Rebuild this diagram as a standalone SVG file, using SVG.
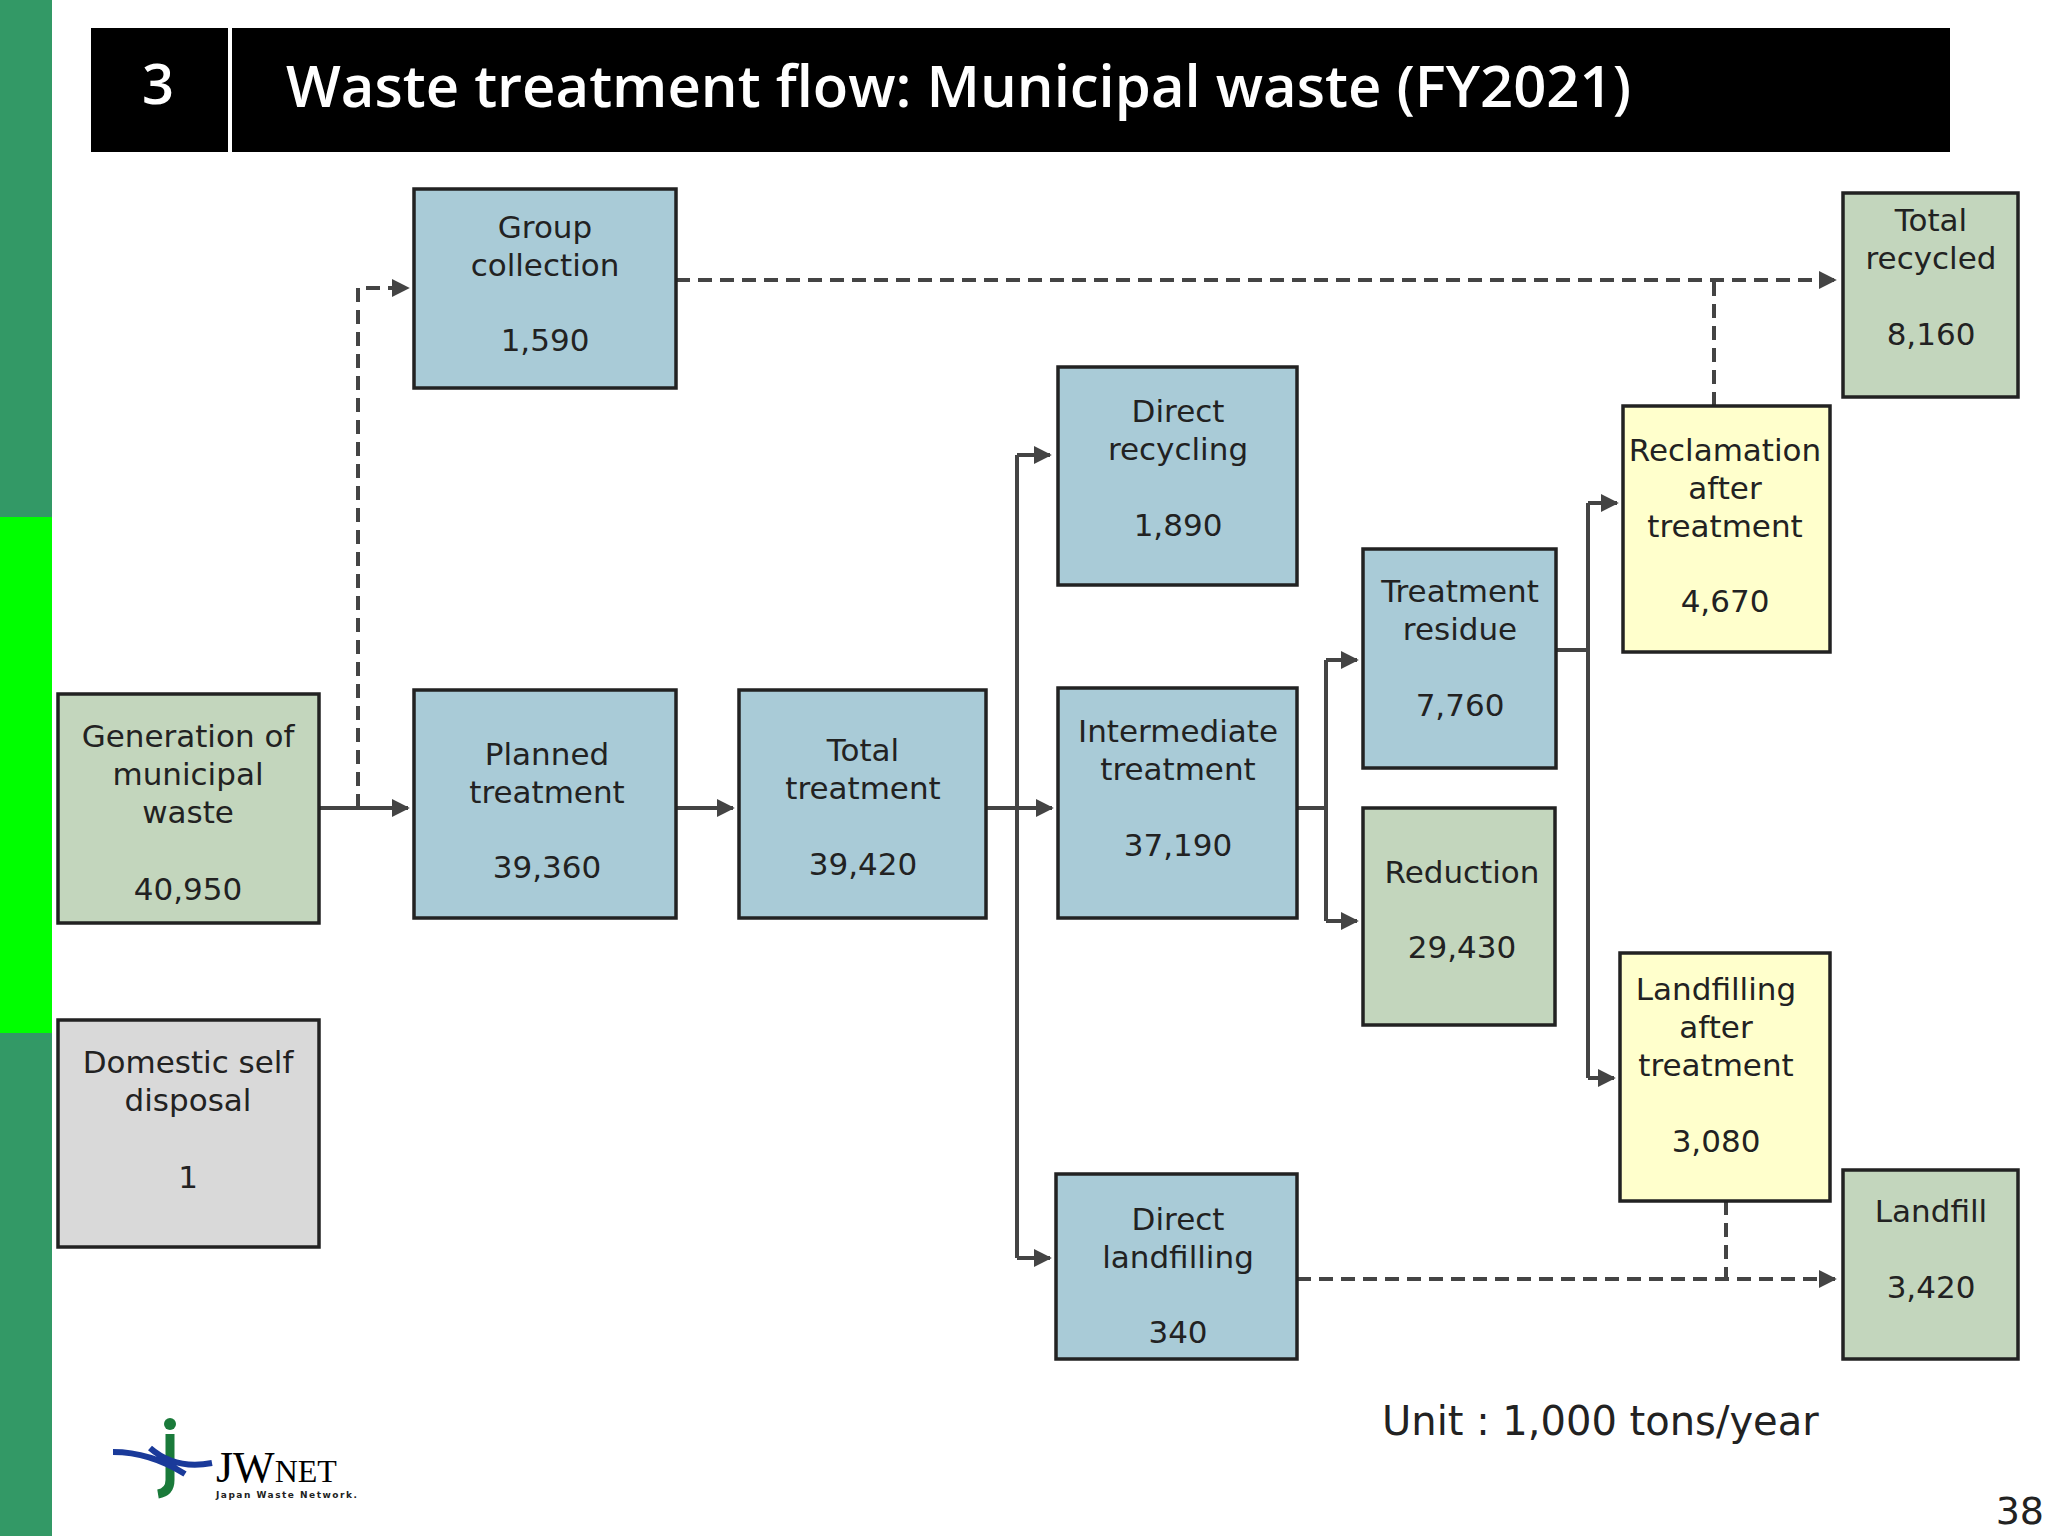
<svg xmlns="http://www.w3.org/2000/svg" width="2048" height="1536" viewBox="0 0 2048 1536">
<style>
.n rect{stroke:#222;stroke-width:3.5}
.b{fill:#a9cbd7}.g{fill:#c3d6bd}.y{fill:#ffffcc}.gr{fill:#d9d9d9}
text{font-family:"DejaVu Sans","Open Sans",sans-serif;font-size:31px;fill:#222;text-anchor:middle}
.s{fill:none;stroke:#444;stroke-width:4}
.d{fill:none;stroke:#444;stroke-width:4;stroke-dasharray:14,8}
</style>
<defs><marker id="a" viewBox="0 0 10 10" refX="9" refY="5" markerWidth="4.5" markerHeight="5" orient="auto"><path d="M0,0L10,5L0,10z" fill="#444"/></marker></defs>
<rect width="2048" height="1536" fill="#fff"/>
<rect x="0" y="0" width="52" height="1536" fill="#339966"/>
<rect x="0" y="517" width="52" height="516" fill="#00ff00"/>
<g id="title">
<rect x="91" y="28" width="1859" height="124" fill="#000"/>
<rect x="228" y="28" width="4" height="124" fill="#fff"/>
<text x="158" y="104" style="fill:#fff;font-size:56px;font-weight:600;font-family:'Open Sans',sans-serif">3</text>
<text x="286" y="107" style="fill:#fff;font-size:58px;font-weight:600;font-family:'Open Sans',sans-serif;text-anchor:start">Waste treatment flow: Municipal waste (FY2021)</text>
</g>
<g id="connectors">
<path class="s" d="M319,808H408" marker-end="url(#a)"/>
<path class="d" d="M358,808V288H408" marker-end="url(#a)"/>
<path class="s" d="M676,808H733" marker-end="url(#a)"/>
<path class="s" d="M986,808H1052" marker-end="url(#a)"/>
<path class="s" d="M1017,455V1258"/>
<path class="s" d="M1017,455H1050" marker-end="url(#a)"/>
<path class="s" d="M1017,1258H1050" marker-end="url(#a)"/>
<path class="s" d="M1297,808H1326"/>
<path class="s" d="M1326,660V921"/>
<path class="s" d="M1326,660H1357" marker-end="url(#a)"/>
<path class="s" d="M1326,921H1357" marker-end="url(#a)"/>
<path class="s" d="M1556,650H1588"/>
<path class="s" d="M1588,503V1078"/>
<path class="s" d="M1588,503H1617" marker-end="url(#a)"/>
<path class="s" d="M1588,1078H1614" marker-end="url(#a)"/>
<path class="d" d="M676,280H1835" marker-end="url(#a)"/>
<path class="d" d="M1714,406V280"/>
<path class="d" d="M1297,1279H1835" marker-end="url(#a)"/>
<path class="d" d="M1726,1201V1279"/>
</g>
<g id="group" class="n"><rect class="b" x="414" y="189" width="262" height="199"/><text x="545" y="238">Group</text><text x="545" y="276">collection</text><text x="545" y="351">1,590</text></g>
<g id="gen" class="n"><rect class="g" x="58" y="694" width="261" height="229"/><text x="188" y="747">Generation of</text><text x="188" y="785">municipal</text><text x="188" y="823">waste</text><text x="188" y="900">40,950</text></g>
<g id="domestic" class="n"><rect class="gr" x="58" y="1020" width="261" height="227"/><text x="188" y="1073">Domestic self</text><text x="188" y="1111">disposal</text><text x="188" y="1188">1</text></g>
<g id="planned" class="n"><rect class="b" x="414" y="690" width="262" height="228"/><text x="547" y="765">Planned</text><text x="547" y="803">treatment</text><text x="547" y="878">39,360</text></g>
<g id="total" class="n"><rect class="b" x="739" y="690" width="247" height="228"/><text x="863" y="761">Total</text><text x="863" y="799">treatment</text><text x="863" y="875">39,420</text></g>
<g id="directrec" class="n"><rect class="b" x="1058" y="367" width="239" height="218"/><text x="1178" y="422">Direct</text><text x="1178" y="460">recycling</text><text x="1178" y="536">1,890</text></g>
<g id="intermediate" class="n"><rect class="b" x="1058" y="688" width="239" height="230"/><text x="1178" y="742">Intermediate</text><text x="1178" y="780">treatment</text><text x="1178" y="856">37,190</text></g>
<g id="directland" class="n"><rect class="b" x="1056" y="1174" width="241" height="185"/><text x="1178" y="1230">Direct</text><text x="1178" y="1268">landfilling</text><text x="1178" y="1343">340</text></g>
<g id="residue" class="n"><rect class="b" x="1363" y="549" width="193" height="219"/><text x="1460" y="602">Treatment</text><text x="1460" y="640">residue</text><text x="1460" y="716">7,760</text></g>
<g id="reduction" class="n"><rect class="g" x="1363" y="808" width="192" height="217"/><text x="1462" y="883">Reduction</text><text x="1462" y="958">29,430</text></g>
<g id="reclamation" class="n"><rect class="y" x="1623" y="406" width="207" height="246"/><text x="1725" y="461">Reclamation</text><text x="1725" y="499">after</text><text x="1725" y="537">treatment</text><text x="1725" y="612">4,670</text></g>
<g id="landafter" class="n"><rect class="y" x="1620" y="953" width="210" height="248"/><text x="1716" y="1000">Landfilling</text><text x="1716" y="1038">after</text><text x="1716" y="1076">treatment</text><text x="1716" y="1152">3,080</text></g>
<g id="totalrec" class="n"><rect class="g" x="1843" y="193" width="175" height="204"/><text x="1931" y="231">Total</text><text x="1931" y="269">recycled</text><text x="1931" y="345">8,160</text></g>
<g id="landfill" class="n"><rect class="g" x="1843" y="1170" width="175" height="189"/><text x="1931" y="1222">Landfill</text><text x="1931" y="1298">3,420</text></g>
<text x="1382" y="1435" style="font-size:40px;text-anchor:start">Unit : 1,000 tons/year</text>
<text x="2044" y="1524" style="font-size:38px;text-anchor:end">38</text>
<g id="logo">
<circle cx="170" cy="1424" r="6" fill="#1a7a3a"/>
<path d="M170,1434V1480Q170,1492 158,1494" stroke="#1a7a3a" stroke-width="9" fill="none"/>
<path d="M113,1452Q150,1452 185,1474M150,1448Q175,1470 212,1463" stroke="#1a3a9a" stroke-width="6" fill="none"/>
<text x="216" y="1482" style="font-family:'Liberation Serif',serif;font-size:44px;text-anchor:start;fill:#000">JW<tspan style="font-size:32px">NET</tspan></text>
<text x="216" y="1498" style="font-size:9px;text-anchor:start;font-weight:bold;letter-spacing:1.5px">Japan Waste Network.</text>
</g>
</svg>
